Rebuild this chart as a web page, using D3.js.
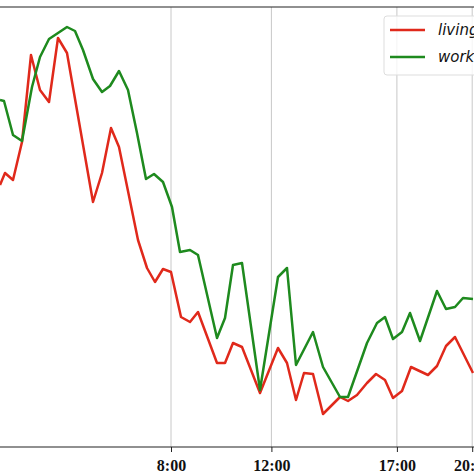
<!DOCTYPE html>
<html>
<head>
<meta charset="utf-8">
<script src="https://cdn.jsdelivr.net/npm/d3@7"></script>
<style>
  body { margin: 0; background: #fff; }
  svg { display: block; }
</style>
</head>
<body>
<div id="chart"></div>
<script>
// hours, values in arbitrary units (0-100)
const livingX = [0, 5, 13, 22, 31, 40, 49, 58, 67, 93, 102, 111, 119, 138, 147, 155, 163, 171, 181, 190, 198, 217, 225, 233, 242, 260, 278, 287, 296, 304, 313, 323, 340, 348, 357, 367, 376, 385, 393, 402, 411, 428, 437, 446, 455, 463, 473];
const livingY = [185, 173, 180, 142, 55, 90, 102, 38, 53, 202, 173, 128, 147, 240, 268, 282, 269, 272, 317, 322, 312, 363, 363, 343, 347, 393, 348, 363, 400, 373, 374, 414, 397, 401, 395, 383, 374, 380, 398, 391, 367, 375, 366, 346, 337, 353, 373];
const workX = [0, 4, 13, 22, 32, 40, 49, 58, 67, 75, 83, 93, 102, 110, 119, 128, 137, 146, 154, 163, 172, 180, 190, 198, 217, 225, 233, 242, 260, 278, 287, 296, 313, 323, 340, 348, 367, 377, 385, 393, 402, 410, 420, 437, 446, 455, 463, 473];
const workY = [100, 101, 135, 141, 87, 57, 39, 33, 27, 31, 50, 79, 92, 86, 71, 90, 133, 179, 174, 182, 207, 252, 250, 255, 338, 318, 265, 263, 390, 277, 268, 365, 332, 367, 397, 397, 343, 323, 317, 339, 332, 313, 341, 291, 309, 307, 298, 299];
const tickHours = [8, 12, 17, 20];
const tickLabels = ["8:00", "12:00", "17:00", "20:00"];
const seriesNames = ["living", "working"];
const seriesColors = ["#e0291b", "#1e8a1e"];

// convert picture readings into hours / values
const pxToHour = px => 8 + (px - 171) / 25.1;
const pxToVal = py => (447 - py) / 4.4;
const living = livingX.map((x, i) => ({ h: pxToHour(x), v: pxToVal(livingY[i]) }));
const working = workX.map((x, i) => ({ h: pxToHour(x), v: pxToVal(workY[i]) }));

const W = 474, H = 474;
const svg = d3.select("#chart").append("svg").attr("width", W).attr("height", H);

const x = d3.scaleLinear().domain([pxToHour(0), pxToHour(474)]).range([0, 474]);
const y = d3.scaleLinear().domain([0, 100]).range([447, 7]);

// grid
svg.append("g").selectAll("line").data(tickHours).join("line")
    .attr("x1", d => x(d)).attr("x2", d => x(d))
    .attr("y1", y(100)).attr("y2", y(0))
    .attr("stroke", "#c8c8c8").attr("stroke-width", 1);

// lines
const line = d3.line().x(d => x(d.h)).y(d => y(d.v));
[living, working].forEach((data, i) => {
    svg.append("path").datum(data)
        .attr("fill", "none")
        .attr("stroke", seriesColors[i])
        .attr("stroke-width", 2.5)
        .attr("stroke-linejoin", "round")
        .attr("d", line);
});

// axes / spines
svg.append("line").attr("x1", 0).attr("x2", W).attr("y1", y(100)).attr("y2", y(100))
    .attr("stroke", "#222").attr("stroke-width", 1.2);
const xAxis = svg.append("g")
    .attr("transform", `translate(0,${y(0)})`)
    .call(d3.axisBottom(x).tickValues(tickHours).tickFormat((d, i) => tickLabels[i]).tickSize(5).tickSizeOuter(0));
xAxis.select(".domain").attr("stroke", "#222").attr("stroke-width", 1.2).attr("d", `M0,0H${W}`);
xAxis.selectAll(".tick line").attr("stroke", "#222");
xAxis.selectAll("text")
    .attr("dy", "1.0em")
    .style("font-family", "'Liberation Serif', 'DejaVu Serif', serif")
    .style("font-weight", "bold")
    .style("font-size", "16px")
    .attr("fill", "#111");

// legend
const legend = svg.append("g").attr("transform", "translate(384,16)");
legend.append("rect").attr("width", 110).attr("height", 59).attr("rx", 3)
    .attr("fill", "#fff").attr("fill-opacity", 0.8).attr("stroke", "#ddd");
seriesNames.forEach((name, i) => {
    const g = legend.append("g").attr("transform", `translate(0,${14 + i * 27})`);
    g.append("line").attr("x1", 6).attr("x2", 41).attr("stroke", seriesColors[i]).attr("stroke-width", 2.5);
    g.append("text").attr("x", 54).attr("y", 5).text(name)
        .style("font-family", "'DejaVu Sans', sans-serif")
        .style("font-style", "italic").style("font-size", "15px").attr("fill", "#111");
});
</script>
</body>
</html>
